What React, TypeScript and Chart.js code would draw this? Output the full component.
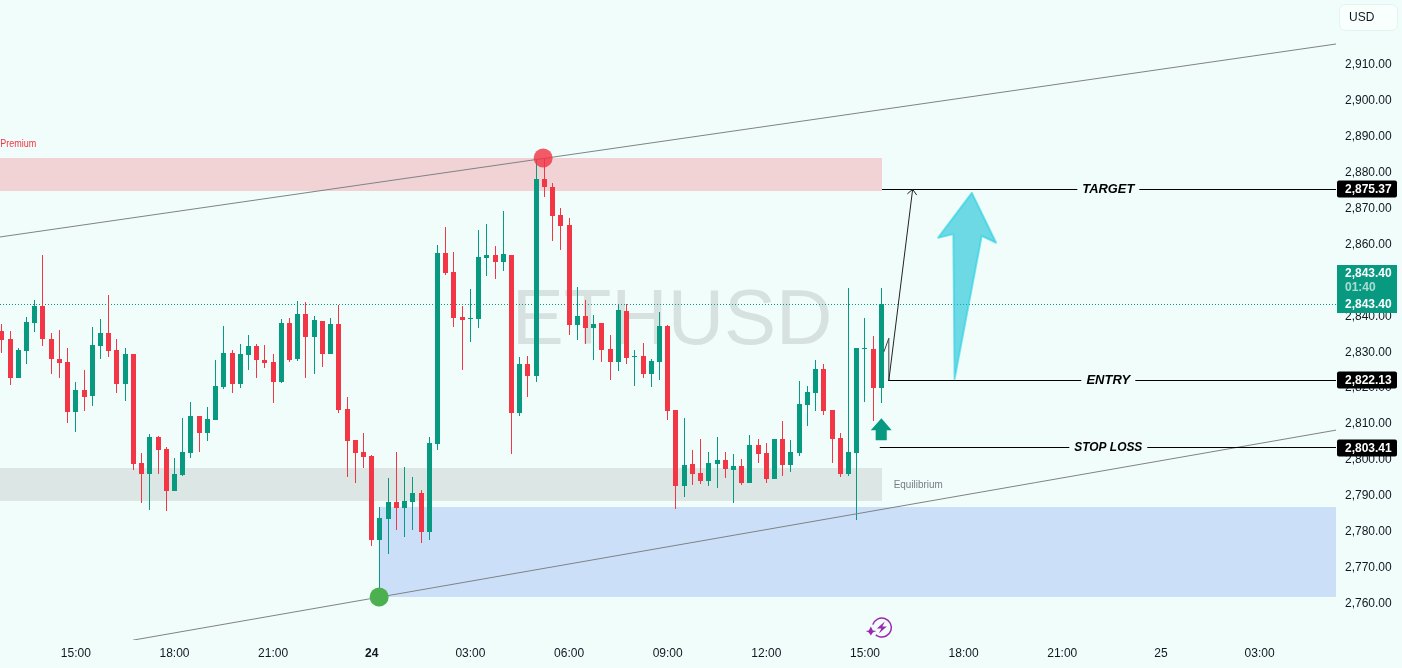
import React, { useEffect, useRef } from "react";
import { Chart, registerables } from "chart.js";

Chart.register(...registerables);

const opens = [2835.9,2833.7,2822.8,2830.3,2838.1,2842.9,2833.7,2828.1,2827.3,2813.3,2819.5,2817.8,2831.7,2835.3,2830.6,2821.1,2829.5,2799.1,2796.1,2806.4,2803.0,2791.3,2795.8,2801.9,2812.2,2807.5,2811.1,2820.3,2829.8,2821.1,2829.2,2831.7,2827.8,2827.3,2821.7,2838.1,2828.1,2840.6,2834.2,2838.7,2829.5,2837.9,2814.2,2805.5,2802.2,2801.1,2777.7,2783.5,2788.3,2786.6,2788.3,2790.8,2779.9,2804.4,2857.6,2852.3,2839.8,2839.2,2839.2,2856.2,2857.1,2855.1,2857.1,2813.1,2826.7,2823.4,2878.2,2876.0,2868.2,2865.4,2837.6,2840.1,2836.7,2838.1,2830.9,2827.3,2841.5,2828.7,2829.0,2823.9,2827.3,2837.3,2813.9,2792.7,2798.9,2796.4,2794.1,2798.9,2800.0,2797.2,2798.3,2793.6,2804.2,2801.9,2794.7,2805.8,2798.6,2801.9,2815.3,2818.6,2825.3,2813.9,2806.1,2796.1,2801.9,2830.9,2830.9,2820.0];
const highs = [2837.9,2835.9,2831.2,2839.8,2844.5,2857.1,2835.3,2836.2,2831.2,2821.7,2825.0,2837.0,2839.2,2845.9,2833.7,2831.2,2829.5,2801.9,2807.2,2806.7,2803.6,2800.5,2811.7,2816.1,2812.2,2814.7,2827.8,2837.3,2830.6,2832.3,2834.8,2832.3,2832.0,2829.5,2839.2,2839.5,2844.3,2844.0,2840.1,2838.7,2839.5,2843.1,2817.5,2805.5,2807.5,2801.4,2786.9,2795.0,2802.2,2798.0,2795.2,2791.6,2806.4,2859.9,2864.9,2857.9,2842.9,2847.6,2864.0,2865.7,2859.6,2869.3,2857.1,2828.7,2829.0,2883.5,2884.1,2877.1,2870.2,2867.4,2848.2,2844.5,2840.4,2838.1,2834.8,2843.4,2843.4,2830.6,2832.6,2828.1,2841.2,2837.6,2813.9,2811.7,2802.8,2805.8,2802.2,2806.4,2802.2,2801.6,2800.3,2806.9,2805.8,2804.7,2805.8,2810.8,2805.5,2822.0,2820.6,2827.8,2826.7,2813.9,2807.5,2847.9,2831.2,2839.5,2834.5,2847.9];
const lows = [2829.8,2820.9,2822.8,2826.7,2835.6,2831.7,2823.9,2822.8,2810.3,2807.8,2813.6,2815.0,2828.1,2828.7,2818.6,2816.4,2797.2,2788.0,2786.0,2796.1,2785.8,2791.3,2795.5,2800.5,2802.2,2805.3,2811.1,2819.8,2818.6,2820.0,2825.0,2822.8,2825.6,2815.9,2821.4,2827.3,2827.5,2822.8,2823.9,2825.9,2829.5,2813.1,2795.2,2793.6,2797.7,2776.0,2761.8,2773.8,2780.5,2778.5,2780.5,2776.9,2777.7,2802.8,2851.5,2837.0,2825.0,2832.8,2836.7,2851.2,2850.4,2852.6,2801.6,2812.2,2817.5,2821.7,2873.2,2861.0,2858.5,2834.8,2833.4,2832.3,2827.8,2827.3,2822.3,2824.8,2826.7,2820.6,2822.8,2820.3,2822.3,2811.1,2786.3,2789.7,2793.0,2793.3,2792.7,2792.2,2795.0,2788.0,2793.0,2793.6,2799.1,2793.6,2794.7,2795.5,2796.6,2801.1,2809.4,2813.6,2812.5,2799.1,2795.2,2795.5,2783.3,2816.1,2810.8,2815.9];
const closes = [2833.4,2822.8,2830.6,2838.4,2842.9,2833.7,2828.1,2827.0,2813.3,2819.5,2817.5,2832.0,2835.3,2830.3,2821.1,2829.5,2798.9,2796.1,2806.4,2802.8,2791.3,2796.1,2802.2,2812.2,2807.5,2811.4,2820.6,2829.8,2821.1,2829.5,2831.7,2827.8,2827.0,2821.7,2838.1,2827.8,2840.6,2834.2,2839.0,2829.5,2837.9,2813.9,2805.3,2801.9,2800.8,2777.7,2783.8,2788.3,2786.6,2788.6,2790.8,2779.9,2804.7,2857.6,2852.1,2839.5,2839.0,2839.5,2856.5,2857.1,2855.1,2857.4,2813.1,2826.7,2823.4,2878.2,2876.0,2867.9,2865.1,2837.6,2840.1,2836.7,2837.9,2830.6,2827.3,2841.8,2828.4,2829.0,2823.9,2827.5,2837.3,2813.6,2792.7,2798.6,2796.1,2794.1,2799.1,2800.0,2797.5,2798.3,2793.6,2804.2,2801.6,2794.7,2805.8,2798.6,2802.2,2815.6,2818.9,2825.3,2813.6,2805.8,2796.1,2802.2,2831.2,2831.2,2820.0,2843.4];

const candleIndex = opens.map((_, i) => i);
const yTicks = [2760,2770,2780,2790,2800,2810,2820,2830,2840,2850,2860,2870,2880,2890,2900,2910];
const xTickIndex = [9,21,33,45,57,69,81,93,105,117,129,141,153];
const xTickLabels = ["15:00","18:00","21:00","24","03:00","06:00","09:00","12:00","15:00","18:00","21:00","25","03:00"];

const targetPrice = 2875.37, entryPrice = 2822.13, stopPrice = 2803.41, lastPrice = 2843.4;
const upperChannel = [{ x: -0.225, y: 2862.1 }, { x: 162.3, y: 2915.85 }];
const lowerChannel = [{ x: 15.95, y: 2749.8 }, { x: 162.3, y: 2808.3 }];
const highDot = [{ x: 65.85, y: 2884.1 }];
const lowDot = [{ x: 45.9, y: 2761.8 }];
const premiumZone = { x0: -0.3, x1: 107.07, hi: 2884.1, lo: 2874.9 };
const equilibriumZone = { x0: -0.3, x1: 107.07, hi: 2797.7, lo: 2788.6 };
const discountZone = { x0: 45.9, x1: 162.3, hi: 2786.9, lo: 2761.8 };
const bigArrow = [[115.9,2822.5],[115.75,2862.9],[113.9,2861.9],[118.0,2874.4],[120.95,2860.5],[119.2,2862.4]];
const smallArrow = [[107.0,2811.6],[108.25,2808.3],[107.65,2808.3],[107.65,2805.5],[106.3,2805.5],[106.3,2808.3],[105.7,2808.3]];
const zigzag = [[107.3,2830.1],[107.9,2833.9],[107.9,2822.13]];
const targetArrow = [[107.9,2822.13],[110.8,2875.37]];
const levelLines = [
  { price: targetPrice, from: 107.07, text: "TARGET", width: 52 },
  { price: entryPrice, from: 107.8, text: "ENTRY", width: 44 },
  { price: stopPrice, from: 106.8, text: "STOP LOSS", width: 68 },
];

const UP = "#089981", DOWN = "#F23645", INK = "#131722", FONT = '"Liberation Sans", Arial, sans-serif';
const colors = opens.map((o, i) => (closes[i] >= o ? UP : DOWN));

const fmt = (v: number) => v.toLocaleString("en-US", { minimumFractionDigits: 2, maximumFractionDigits: 2 });

const snapBars = {
  id: "snapBars",
  beforeDatasetsDraw(chart: any) {
    chart.data.datasets.forEach((ds: any, k: number) => {
      if (ds.type !== "bar") return;
      chart.getDatasetMeta(k).data.forEach((el: any) => {
        el.x = Math.floor(el.x) + 0.5;
        el.y = Math.round(el.y);
        el.base = Math.round(el.base);
      });
    });
  },
};

function poly(ctx: any, sx: any, sy: any, pts: number[][]) {
  ctx.beginPath();
  pts.forEach(([a, b], i) => (i ? ctx.lineTo(sx(a), sy(b)) : ctx.moveTo(sx(a), sy(b))));
}

const background = {
  id: "background",
  beforeDatasetsDraw(chart: any) {
    const { ctx, chartArea: area, scales } = chart;
    const sx = (v: number) => scales.x.getPixelForValue(v);
    const sy = (v: number) => scales.y.getPixelForValue(v);
    ctx.save();
    ctx.beginPath();
    ctx.rect(area.left, area.top, area.right - area.left, area.bottom - area.top);
    ctx.clip();
    ctx.fillStyle = "#D7E2E0";
    ctx.font = `78px ${FONT}`;
    ctx.textAlign = "center";
    ctx.textBaseline = "middle";
    ctx.fillText("ETHUSD", (area.left + area.right) / 2 + 4, sy(2838.4));
    const zone = (z: any, color: string) => {
      ctx.fillStyle = color;
      ctx.fillRect(Math.round(sx(z.x0)), Math.round(sy(z.hi)), Math.round(sx(z.x1)) - Math.round(sx(z.x0)), Math.round(sy(z.lo)) - Math.round(sy(z.hi)));
    };
    zone(premiumZone, "#F1D3D6");
    zone(equilibriumZone, "#DBE6E5");
    zone(discountZone, "#CBE0F8");
    ctx.strokeStyle = UP;
    ctx.lineWidth = 1;
    ctx.setLineDash([1, 2]);
    ctx.beginPath();
    const ly = Math.floor(sy(lastPrice)) + 0.5;
    ctx.moveTo(area.left, ly);
    ctx.lineTo(area.right, ly);
    ctx.stroke();
    ctx.restore();
  },
};

function tag(ctx: any, y: number, text: string) {
  ctx.fillStyle = "#000000";
  ctx.beginPath();
  ctx.roundRect(1337, Math.round(y) - 8.5, 60, 17, 2);
  ctx.fill();
  ctx.fillStyle = "#FFFFFF";
  ctx.font = `bold 12px ${FONT}`;
  ctx.textAlign = "left";
  ctx.textBaseline = "middle";
  ctx.fillText(text, 1345, Math.round(y) + 1);
}

const overlay = {
  id: "overlay",
  afterDatasetsDraw(chart: any) {
    const { ctx, chartArea: area, scales } = chart;
    const sx = (v: number) => scales.x.getPixelForValue(v);
    const sy = (v: number) => scales.y.getPixelForValue(v);
    ctx.save();

    // level lines with their labels
    levelLines.forEach((l) => {
      const y = Math.floor(sy(l.price)) + 0.5;
      const cx = sx(134.6);
      ctx.font = `italic bold 13px ${FONT}`;
      const half = l.width / 2 + 5;
      ctx.strokeStyle = "#000000";
      ctx.lineWidth = 1;
      ctx.beginPath();
      ctx.moveTo(sx(l.from), y);
      ctx.lineTo(cx - half, y);
      ctx.moveTo(cx + half, y);
      ctx.lineTo(area.right, y);
      ctx.stroke();
      ctx.fillStyle = "#000000";
      ctx.textAlign = "center";
      ctx.textBaseline = "middle";
      ctx.fillText(l.text, cx, y, l.width);
    });

    // big cyan arrow
    poly(ctx, sx, sy, bigArrow);
    ctx.closePath();
    ctx.fillStyle = "rgba(0,188,212,0.55)";
    ctx.fill();
    ctx.strokeStyle = "rgba(38,208,226,0.6)";
    ctx.lineWidth = 2;
    ctx.lineJoin = "round";
    ctx.stroke();

    // small green arrow
    poly(ctx, sx, sy, smallArrow);
    ctx.closePath();
    ctx.fillStyle = UP;
    ctx.fill();

    // path drawing
    ctx.strokeStyle = "#444444";
    ctx.lineWidth = 1;
    poly(ctx, sx, sy, zigzag);
    ctx.stroke();
    ctx.strokeStyle = "#222222";
    poly(ctx, sx, sy, targetArrow);
    ctx.stroke();
    const [a, b] = targetArrow;
    const tx = sx(b[0]), ty = sy(b[1]);
    const ang = Math.atan2(ty - sy(a[1]), tx - sx(a[0]));
    ctx.beginPath();
    ctx.moveTo(tx + 7 * Math.cos(ang + 2.4), ty + 7 * Math.sin(ang + 2.4));
    ctx.lineTo(tx, ty);
    ctx.lineTo(tx + 7 * Math.cos(ang - 2.4), ty + 7 * Math.sin(ang - 2.4));
    ctx.stroke();

    // zone captions
    ctx.textAlign = "left";
    ctx.textBaseline = "middle";
    ctx.font = `10px ${FONT}`;
    ctx.fillStyle = DOWN;
    ctx.fillText("Premium", sx(-0.2), sy(2888), 36);
    ctx.fillStyle = "#787B86";
    ctx.fillText("Equilibrium", sx(108.5), sy(2793), 49);
    ctx.restore();
  },
  afterDraw(chart: any) {
    const { ctx, scales } = chart;
    const sy = (v: number) => scales.y.getPixelForValue(v);
    const sx = (v: number) => scales.x.getPixelForValue(v);
    ctx.save();

    // currency button
    ctx.fillStyle = "#F8FFFD";
    ctx.strokeStyle = "#E3F3F0";
    ctx.lineWidth = 1;
    ctx.beginPath();
    ctx.roundRect(1339.5, 4.5, 58, 26, 6);
    ctx.fill();
    ctx.stroke();
    ctx.fillStyle = INK;
    ctx.font = `12px ${FONT}`;
    ctx.textAlign = "left";
    ctx.textBaseline = "middle";
    ctx.fillText("USD", 1349, 18);

    // last price block
    const ly = sy(lastPrice);
    ctx.fillStyle = UP;
    ctx.fillRect(1337, Math.round(ly) - 39, 60, 48);
    ctx.fillStyle = "#FFFFFF";
    ctx.font = `bold 12px ${FONT}`;
    ctx.fillText(fmt(lastPrice), 1345, Math.round(ly) - 30);
    ctx.fillText(fmt(lastPrice), 1345, Math.round(ly) + 1);
    ctx.fillStyle = "rgba(255,255,255,0.65)";
    ctx.fillText("01:40", 1345, Math.round(ly) - 16);

    tag(ctx, sy(targetPrice), fmt(targetPrice));
    tag(ctx, sy(entryPrice), fmt(entryPrice));
    tag(ctx, sy(stopPrice), fmt(stopPrice));

    // event icon
    const cx = sx(107.05), cy = sy(2753.3);
    ctx.strokeStyle = "#9C27B0";
    ctx.fillStyle = "#9C27B0";
    ctx.lineWidth = 1.5;
    ctx.beginPath();
    ctx.arc(cx, cy, 9.5, -0.9 * Math.PI, 0.72 * Math.PI);
    ctx.stroke();
    ctx.beginPath();
    ctx.moveTo(cx + 3, cy - 6);
    ctx.lineTo(cx - 5, cy + 1);
    ctx.lineTo(cx - 0.5, cy + 1);
    ctx.lineTo(cx - 3, cy + 6);
    ctx.lineTo(cx + 5, cy - 1);
    ctx.lineTo(cx + 0.5, cy - 1);
    ctx.closePath();
    ctx.fill();
    ctx.beginPath();
    ctx.moveTo(cx - 11, cy - 1);
    ctx.lineTo(cx - 9, cy + 3);
    ctx.lineTo(cx - 5.5, cy + 3.5);
    ctx.lineTo(cx - 9, cy + 5);
    ctx.lineTo(cx - 11, cy + 8);
    ctx.lineTo(cx - 13, cy + 5);
    ctx.lineTo(cx - 16, cy + 3.5);
    ctx.lineTo(cx - 13, cy + 3);
    ctx.closePath();
    ctx.fill();
    ctx.restore();
  },
};

const noPadding = (s: any) => {
  s.paddingLeft = 0;
  s.paddingRight = 0;
  s.paddingTop = 0;
  s.paddingBottom = 0;
};

export default function App() {
  const ref = useRef<HTMLCanvasElement | null>(null);
  useEffect(() => {
    if (!ref.current) return;
    const chart = new Chart(ref.current, {
      type: "bar",
      data: {
        datasets: [
          { type: "line", label: "High touch", data: highDot, showLine: false, pointRadius: 9.5, pointBorderWidth: 0, pointBackgroundColor: "rgba(242,54,69,0.82)", order: 0 },
          { type: "line", label: "Low touch", data: lowDot, showLine: false, pointRadius: 9.5, pointBorderWidth: 0, pointBackgroundColor: "#4CAF50", order: 0 },
          { type: "bar", label: "Body", data: candleIndex.map((i) => ({ x: i, y: [opens[i], closes[i]] })), backgroundColor: colors, barThickness: 5, grouped: false, borderWidth: 0, inflateAmount: 0, order: 1 },
          { type: "bar", label: "Wick", data: candleIndex.map((i) => ({ x: i, y: [lows[i], highs[i]] })), backgroundColor: colors, barThickness: 1, grouped: false, borderWidth: 0, inflateAmount: 0, order: 2 },
          { type: "line", label: "Upper channel", data: upperChannel, borderColor: "#808285", borderWidth: 1, pointRadius: 0, order: 0.5 },
          { type: "line", label: "Lower channel", data: lowerChannel, borderColor: "#808285", borderWidth: 1, pointRadius: 0, order: 0.5 },
        ],
      },
      options: {
        responsive: false,
        animation: false,
        layout: { padding: 0, autoPadding: false },
        plugins: { legend: { display: false }, tooltip: { enabled: false } },
        scales: {
          x: {
            type: "linear",
            offset: false,
            min: -0.225,
            max: 162.3,
            grid: { display: false, drawTicks: false },
            border: { display: false },
            afterBuildTicks: (s: any) => { s.ticks = xTickIndex.map((value) => ({ value })); },
            afterFit: (s: any) => { s.height = 28; noPadding(s); },
            ticks: {
              autoSkip: false,
              maxRotation: 0,
              padding: 6,
              color: INK,
              font: (c: any) => ({ family: FONT, size: 12, weight: c.tick && xTickLabels[xTickIndex.indexOf(c.tick.value)] === "24" ? "bold" : "normal" }),
              callback: (v: any) => xTickLabels[xTickIndex.indexOf(v)],
            },
          },
          y: {
            position: "right",
            min: 2749.84,
            max: 2928.11,
            grid: { display: false, drawTicks: false },
            border: { display: false },
            afterBuildTicks: (s: any) => { s.ticks = yTicks.map((value) => ({ value })); },
            afterFit: (s: any) => { s.width = 66; noPadding(s); },
            ticks: {
              padding: 9,
              color: INK,
              font: { family: FONT, size: 12 },
              callback: (v: any) => fmt(v),
            },
          },
        },
      },
      plugins: [snapBars, background, overlay],
    } as any);
    return () => chart.destroy();
  }, []);
  return (
    <div style={{ position: "fixed", left: 0, top: 0, width: 1402, height: 668, background: "#F0FDFA" }}>
      <canvas ref={ref} width={1402} height={668} style={{ display: "block" }} />
    </div>
  );
}
